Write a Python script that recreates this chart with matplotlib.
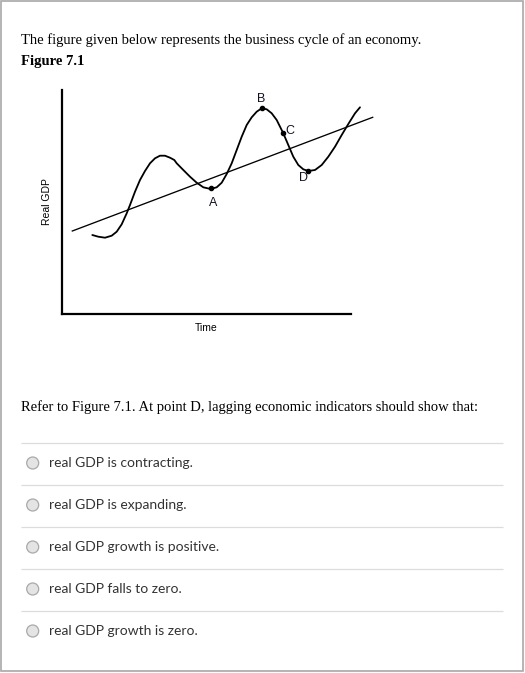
import matplotlib
matplotlib.use("Agg")
import matplotlib.pyplot as plt
from matplotlib.patches import Circle, Rectangle

# ---------------- data ----------------
time = [30.3, 36.3, 43, 49.7, 54.7, 59.7, 64.7, 68, 73, 78, 83, 88, 93, 98, 103,
        108, 112.3, 114.7, 121.3, 128, 134.7, 141.3, 148.7, 154.7, 159.7, 164.7,
        169.7, 174.7, 179.7, 184.7, 189.7, 194.7, 199.7, 204.7, 209.7, 214.7,
        221.3, 226.3, 231.3, 236.3, 241.3, 246.3, 253, 259.7, 266.3, 273, 279.7,
        286.3, 293, 298]
real_gdp = [79, 77.3, 76.3, 78.3, 82.3, 89.7, 100.7, 109, 122.3, 134, 143, 150.7,
            155.7, 158.3, 158.3, 156.3, 154, 150.7, 144, 137.3, 131.3, 126.7, 125,
            126.7, 131.3, 140, 150.7, 164, 177.3, 189, 196.7, 202.3, 205.7, 204.7,
            200.7, 194, 180.7, 169, 157.3, 149, 144.7, 143, 144, 149, 157.3, 167.3,
            179, 190, 200.7, 206.7]
trend_time = [10.3, 310.7]
trend_gdp = [83, 196.7]
point_labels = ["A", "B", "C", "D"]
point_time = [148.7, 199.7, 221.3, 246.3]
point_gdp = [125.7, 205.7, 180.7, 143]
label_time = [151.3, 199, 228, 241.3]
label_gdp = [111.3, 215, 183.3, 136]

question_intro = "The figure given below represents the business cycle of an economy."
figure_title = "Figure 7.1"
question = "Refer to Figure 7.1. At point D, lagging economic indicators should show that:"
options = ["real GDP is contracting.",
           "real GDP is expanding.",
           "real GDP growth is positive.",
           "real GDP falls to zero.",
           "real GDP growth is zero."]

W, H = 525, 673
fig = plt.figure(figsize=(W / 100, H / 100), dpi=100)
fig.patch.set_facecolor("white")

# page overlay in pixel coordinates
bg = fig.add_axes([0, 0, 1, 1])
bg.set_xlim(0, W)
bg.set_ylim(H, 0)
bg.axis("off")
bg.add_patch(Rectangle((0.5, 0.5), W - 2.5, H - 2.5, fill=False,
                       edgecolor="#a8a8a8", linewidth=1.2))

serif = ["Liberation Serif", "DejaVu Serif"]
bg.text(21, 40, question_intro, family=serif, fontsize=10.5, color="black",
        va="center", ha="left")
bg.text(21, 62, figure_title, family=serif, fontsize=10.5, fontweight="bold",
        color="black", va="center", ha="left")
bg.text(21, 407, question, family=serif, fontsize=10.5, color="black",
        va="center", ha="left")

sep_y = [442.5, 484.5, 526.5, 568.5, 610.5]
for y in sep_y:
    bg.plot([21, 503], [y, y], color="#dcdcdc", linewidth=0.9, solid_capstyle="butt")
for i, opt in enumerate(options):
    yc = sep_y[i] + 20.5
    bg.add_patch(Circle((32.7, yc), 6.0, facecolor="#e4e4e4", edgecolor="#a9a9a9",
                        linewidth=0.9))
    bg.text(49, yc, opt, family=["Lato", "DejaVu Sans"], fontsize=10.0,
            color="#333333", va="center", ha="left")

# chart axes
L, R, T, B = 62, 351, 90, 314
ax = fig.add_axes([L / W, (H - B) / H, (R - L) / W, (B - T) / H])
ax.set_xlim(0, R - L)
ax.set_ylim(0, B - T)
ax.patch.set_alpha(0)
for s in ["top", "right"]:
    ax.spines[s].set_visible(False)
for s in ["left", "bottom"]:
    ax.spines[s].set_linewidth(1.6)
    ax.spines[s].set_color("black")
ax.set_xticks([])
ax.set_yticks([])

ax.plot(trend_time, trend_gdp, color="black", linewidth=0.95, clip_on=False)
ax.plot(time, real_gdp, color="black", linewidth=1.3, clip_on=False,
        solid_joinstyle="round", solid_capstyle="round")
ax.scatter(point_time, point_gdp, s=9, color="black", zorder=3, clip_on=False)
sans = ["Liberation Sans", "DejaVu Sans"]
for lab, tx, ty in zip(point_labels, label_time, label_gdp):
    ax.text(tx, ty, lab, family=sans, fontsize=9, color="#111122",
            ha="center", va="center")

ax.set_xlabel("Time", family=sans, fontsize=7.5, labelpad=6.5)
ax.set_ylabel("Real GDP", family=sans, fontsize=7.5, labelpad=7)

fig.savefig("out.png", dpi=100, facecolor="white")
